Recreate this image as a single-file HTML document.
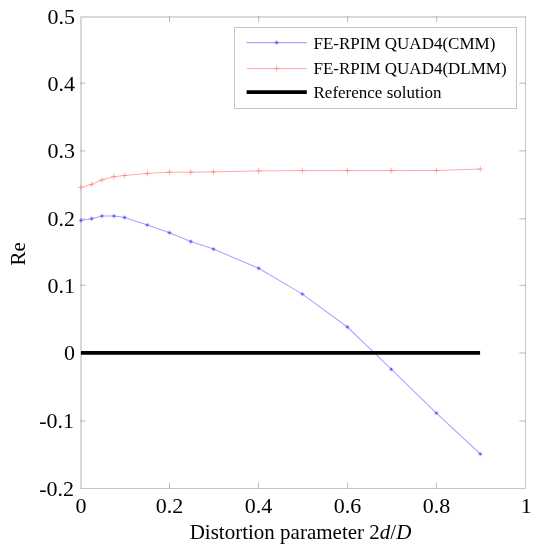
<!DOCTYPE html>
<html><head><meta charset="utf-8"><title>Re vs distortion parameter</title>
<style>
html,body{margin:0;padding:0;background:#fff;}
svg{display:block;}
text{font-family:"Liberation Serif","Times New Roman",serif;fill:#000;}
.tk{font-size:22px;}
.lb{font-size:21px;}
.lg{font-size:17px;}
</style></head><body>
<svg width="539" height="550" viewBox="0 0 539 550">
<rect x="0" y="0" width="539" height="550" fill="#ffffff"/>

<g fill="none" shape-rendering="crispEdges">
<rect x="80" y="16" width="2" height="473" fill="#d9d9d9"/>
<rect x="80" y="16" width="446" height="2" fill="#d9d9d9"/>
<rect x="525" y="16" width="1" height="473" fill="#c6c6c6"/>
<rect x="80" y="488" width="446" height="1" fill="#c6c6c6"/>
</g>
<g stroke="#8c8c8c" stroke-width="0.6" fill="none">
<line x1="169.5" y1="488.8" x2="169.5" y2="482.6"/>
<line x1="169.5" y1="16.2" x2="169.5" y2="21.8"/>
<line x1="258.6" y1="488.8" x2="258.6" y2="482.6"/>
<line x1="258.6" y1="16.2" x2="258.6" y2="21.8"/>
<line x1="347.6" y1="488.8" x2="347.6" y2="482.6"/>
<line x1="347.6" y1="16.2" x2="347.6" y2="21.8"/>
<line x1="436.6" y1="488.8" x2="436.6" y2="482.6"/>
<line x1="436.6" y1="16.2" x2="436.6" y2="21.8"/>
<line x1="80.2" y1="83.2" x2="85.3" y2="83.2"/>
<line x1="525.8" y1="83.2" x2="519.3" y2="83.2"/>
<line x1="80.2" y1="150.9" x2="85.3" y2="150.9"/>
<line x1="525.8" y1="150.9" x2="519.3" y2="150.9"/>
<line x1="80.2" y1="218.8" x2="85.3" y2="218.8"/>
<line x1="525.8" y1="218.8" x2="519.3" y2="218.8"/>
<line x1="80.2" y1="285.3" x2="85.3" y2="285.3"/>
<line x1="525.8" y1="285.3" x2="519.3" y2="285.3"/>
<line x1="80.2" y1="353.0" x2="85.3" y2="353.0"/>
<line x1="525.8" y1="353.0" x2="519.3" y2="353.0"/>
<line x1="80.2" y1="421.0" x2="85.3" y2="421.0"/>
<line x1="525.8" y1="421.0" x2="519.3" y2="421.0"/>
</g>
<polyline points="80.9,187.4 91.6,184.4 101.9,179.9 113.9,176.7 124.6,175.5 147.3,173.4 169.5,172.2 190.8,172.2 213.5,171.9 258.7,170.9 302.4,170.6 347.4,170.6 391.2,170.6 436.4,170.5 480.3,169.0" fill="none" stroke="#ffa0a0" stroke-width="0.9"/>
<g stroke="#ff7474" stroke-width="0.6">
<path d="M78.1 187.4H83.7M80.9 184.6V190.2"/>
<path d="M88.8 184.4H94.4M91.6 181.6V187.2"/>
<path d="M99.1 179.9H104.7M101.9 177.1V182.7"/>
<path d="M111.1 176.7H116.7M113.9 173.9V179.5"/>
<path d="M121.8 175.5H127.4M124.6 172.7V178.3"/>
<path d="M144.5 173.4H150.1M147.3 170.6V176.2"/>
<path d="M166.7 172.2H172.3M169.5 169.4V175.0"/>
<path d="M188.0 172.2H193.6M190.8 169.4V175.0"/>
<path d="M210.7 171.9H216.3M213.5 169.1V174.7"/>
<path d="M255.9 170.9H261.5M258.7 168.1V173.7"/>
<path d="M299.6 170.6H305.2M302.4 167.8V173.4"/>
<path d="M344.6 170.6H350.2M347.4 167.8V173.4"/>
<path d="M388.4 170.6H394.0M391.2 167.8V173.4"/>
<path d="M433.6 170.5H439.2M436.4 167.7V173.3"/>
<path d="M477.5 169.0H483.1M480.3 166.2V171.8"/>
</g>
<polyline points="80.9,220.5 91.6,218.7 101.9,216.0 113.9,216.0 124.6,217.5 147.3,224.9 169.5,232.7 190.8,241.6 213.5,249.1 258.7,268.3 302.4,294.1 347.4,327.0 391.2,369.2 436.4,413.1 480.3,454.0" fill="none" stroke="#a8a8ff" stroke-width="1.05"/>
<g stroke="#6a6aff" stroke-width="0.5" fill="#4848ff">
<path d="M78.5 220.5H83.3M80.9 218.1V222.9M79.4 219.0L82.4 222.0M79.4 222.0L82.4 219.0"/>
<circle cx="80.9" cy="220.5" r="1.0" stroke="none"/>
<path d="M89.2 218.7H94.0M91.6 216.3V221.1M90.1 217.2L93.1 220.2M90.1 220.2L93.1 217.2"/>
<circle cx="91.6" cy="218.7" r="1.0" stroke="none"/>
<path d="M99.5 216.0H104.3M101.9 213.6V218.4M100.4 214.5L103.4 217.5M100.4 217.5L103.4 214.5"/>
<circle cx="101.9" cy="216.0" r="1.0" stroke="none"/>
<path d="M111.5 216.0H116.3M113.9 213.6V218.4M112.4 214.5L115.4 217.5M112.4 217.5L115.4 214.5"/>
<circle cx="113.9" cy="216.0" r="1.0" stroke="none"/>
<path d="M122.2 217.5H127.0M124.6 215.1V219.9M123.1 216.0L126.1 219.0M123.1 219.0L126.1 216.0"/>
<circle cx="124.6" cy="217.5" r="1.0" stroke="none"/>
<path d="M144.9 224.9H149.7M147.3 222.5V227.3M145.8 223.4L148.8 226.4M145.8 226.4L148.8 223.4"/>
<circle cx="147.3" cy="224.9" r="1.0" stroke="none"/>
<path d="M167.1 232.7H171.9M169.5 230.3V235.1M168.0 231.2L171.0 234.2M168.0 234.2L171.0 231.2"/>
<circle cx="169.5" cy="232.7" r="1.0" stroke="none"/>
<path d="M188.4 241.6H193.2M190.8 239.2V244.0M189.3 240.1L192.3 243.1M189.3 243.1L192.3 240.1"/>
<circle cx="190.8" cy="241.6" r="1.0" stroke="none"/>
<path d="M211.1 249.1H215.9M213.5 246.7V251.5M212.0 247.6L215.0 250.6M212.0 250.6L215.0 247.6"/>
<circle cx="213.5" cy="249.1" r="1.0" stroke="none"/>
<path d="M256.3 268.3H261.1M258.7 265.9V270.7M257.2 266.8L260.2 269.8M257.2 269.8L260.2 266.8"/>
<circle cx="258.7" cy="268.3" r="1.0" stroke="none"/>
<path d="M300.0 294.1H304.8M302.4 291.7V296.5M300.9 292.6L303.9 295.6M300.9 295.6L303.9 292.6"/>
<circle cx="302.4" cy="294.1" r="1.0" stroke="none"/>
<path d="M345.0 327.0H349.8M347.4 324.6V329.4M345.9 325.5L348.9 328.5M345.9 328.5L348.9 325.5"/>
<circle cx="347.4" cy="327.0" r="1.0" stroke="none"/>
<path d="M388.8 369.2H393.6M391.2 366.8V371.6M389.7 367.7L392.7 370.7M389.7 370.7L392.7 367.7"/>
<circle cx="391.2" cy="369.2" r="1.0" stroke="none"/>
<path d="M434.0 413.1H438.8M436.4 410.7V415.5M434.9 411.6L437.9 414.6M434.9 414.6L437.9 411.6"/>
<circle cx="436.4" cy="413.1" r="1.0" stroke="none"/>
<path d="M477.9 454.0H482.7M480.3 451.6V456.4M478.8 452.5L481.8 455.5M478.8 455.5L481.8 452.5"/>
<circle cx="480.3" cy="454.0" r="1.0" stroke="none"/>
</g>
<line x1="81" y1="352.9" x2="480.1" y2="352.9" stroke="#000" stroke-width="3.7"/>
<rect x="234.5" y="27.5" width="282" height="81" fill="#fff" stroke="#c4c4c4" stroke-width="1"/>
<line x1="246.6" y1="42.6" x2="306.8" y2="42.6" stroke="#a8a8ff" stroke-width="1.05"/>
<g stroke="#6a6aff" stroke-width="0.5" fill="#4848ff"><path d="M274.2 42.6H279.0M276.6 40.2V45.0M275.1 41.1L278.1 44.1M275.1 44.1L278.1 41.1"/><circle cx="276.6" cy="42.6" r="1.0" stroke="none"/></g>
<line x1="246.6" y1="68.6" x2="306.8" y2="68.6" stroke="#ffa0a0" stroke-width="0.9"/>
<path d="M273.8 68.6H279.4M276.6 65.8V71.4" stroke="#ff7474" stroke-width="0.6"/>
<line x1="246.6" y1="92.2" x2="306.8" y2="92.2" stroke="#000" stroke-width="3.7"/>
<text class="lg" x="313.5" y="48.6">FE-RPIM QUAD4(CMM)</text>
<text class="lg" x="313.5" y="73.9">FE-RPIM QUAD4(DLMM)</text>
<text class="lg" x="313.5" y="98.1">Reference solution</text>
<text class="tk" x="75.0" y="24.3" text-anchor="end">0.5</text>
<text class="tk" x="75.0" y="90.5" text-anchor="end">0.4</text>
<text class="tk" x="75.0" y="158.2" text-anchor="end">0.3</text>
<text class="tk" x="75.0" y="226.0" text-anchor="end">0.2</text>
<text class="tk" x="75.0" y="292.6" text-anchor="end">0.1</text>
<text class="tk" x="75.0" y="360.3" text-anchor="end">0</text>
<text class="tk" x="74.0" y="428.3" text-anchor="end">-0.1</text>
<text class="tk" x="74.0" y="495.8" text-anchor="end">-0.2</text>
<text class="tk" x="81" y="512.6" text-anchor="middle">0</text>
<text class="tk" x="169.5" y="512.6" text-anchor="middle">0.2</text>
<text class="tk" x="258.6" y="512.6" text-anchor="middle">0.4</text>
<text class="tk" x="347.6" y="512.6" text-anchor="middle">0.6</text>
<text class="tk" x="436.6" y="512.6" text-anchor="middle">0.8</text>
<text class="tk" x="526.2" y="512.6" text-anchor="middle">1</text>
<text class="lb" x="300.5" y="539.4" text-anchor="middle">Distortion parameter 2<tspan font-style="italic">d</tspan>/<tspan font-style="italic">D</tspan></text>
<text class="lb" transform="translate(25,253.8) rotate(-90)" text-anchor="middle">Re</text>
</svg></body></html>
